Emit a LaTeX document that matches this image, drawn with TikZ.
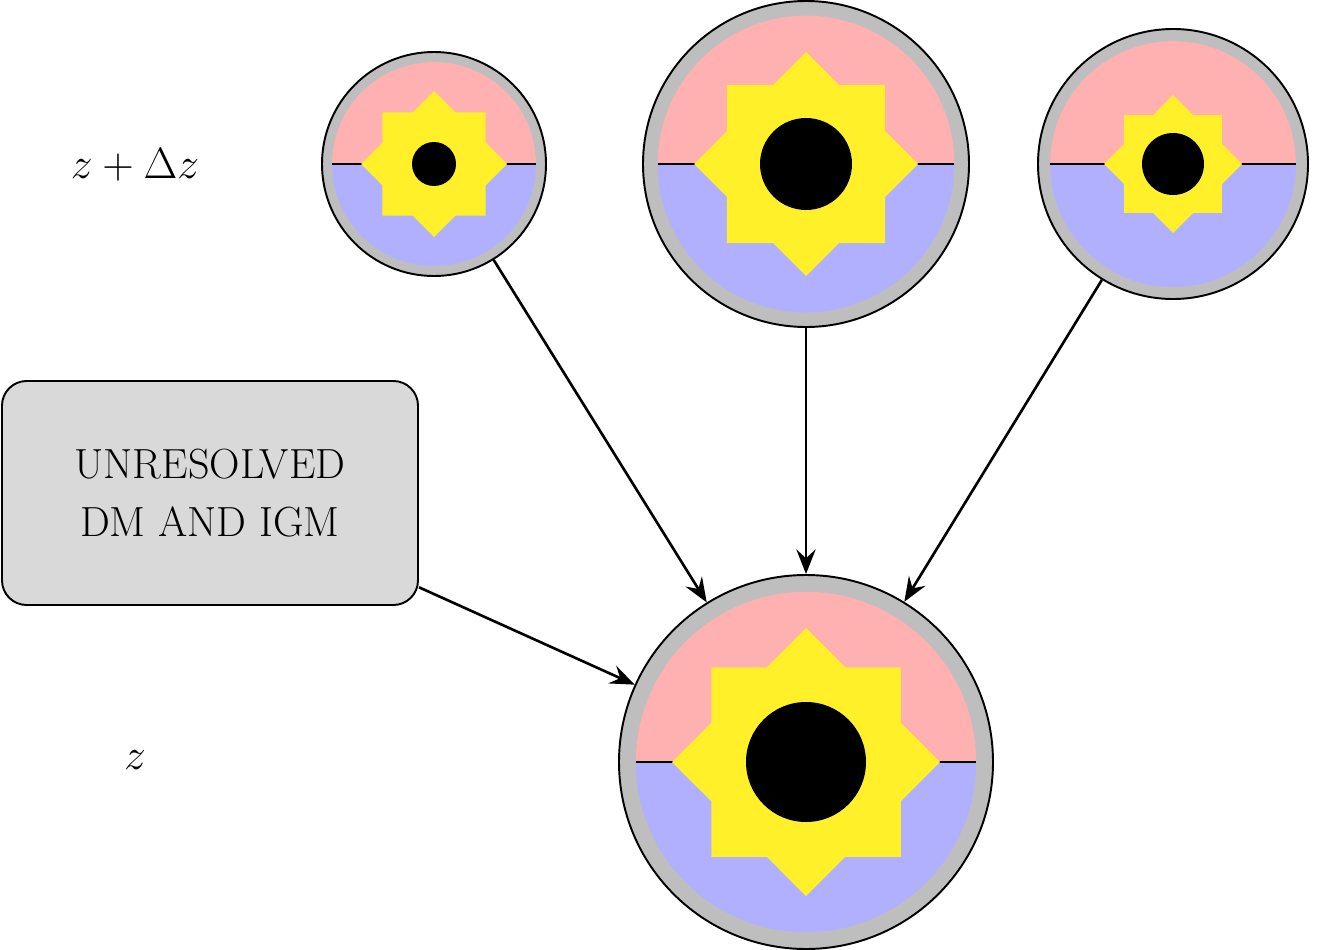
\documentclass[tikz,border=0pt]{standalone}
\usetikzlibrary{arrows.meta}
\definecolor{bl}{HTML}{B0B0FF}
\definecolor{pk}{HTML}{FFB0B0}
\definecolor{yl}{HTML}{FFF02A}
\definecolor{rg}{HTML}{BEBEBE}
\definecolor{bx}{HTML}{D9D9D9}
\newcommand{\eye}[6]{%
  \begin{scope}[shift={(#2,#3)}]
    \fill[rg] (0,0) circle[radius=#4];
    \fill[bl] (0.91*#4,0) arc[start angle=0,end angle=180,radius=0.91*#4] -- cycle;
    \fill[pk] (0.91*#4,0) arc[start angle=0,end angle=-180,radius=0.91*#4] -- cycle;
    \draw[line width=0.8pt] (-0.91*#4,0) -- (0.91*#4,0);
    \fill[yl] (90:#5) \foreach \k in {1,...,15}{ -- ({90+\k*22.5}:{#5*(1-0.2346*mod(\k,2))}) } -- cycle;
    \fill[black] (0,0) circle[radius=#6];
  \end{scope}
  \node[circle,draw,line width=1.1pt,inner sep=0pt,minimum size={2*#4*0.02cm}] (#1) at (#2,#3) {};
}
\begin{document}
\begin{tikzpicture}[x=0.02cm,y=-0.02cm,
  arr/.style={-{Stealth[length=14pt,width=11pt,inset=5pt]},line width=1.5pt},
  lab/.style={font=\fontsize{33}{40}\selectfont}]
\useasboundingbox (0,0) rectangle (1323,950);
\eye{s1}{434}{164}{112}{73}{22}
\eye{s2}{806}{164}{163}{112}{46}
\eye{s3}{1173}{164}{135}{69}{31}
\eye{b}{806}{762}{187}{134}{60}
\node[draw,line width=1.1pt,fill=bx,rounded corners=14pt,minimum width=416*0.02cm,minimum height=224*0.02cm,align=center,font=\fontsize{24}{33}\selectfont] (box) at (210,493) {UNRESOLVED\\DM AND IGM};
\node[lab] (lz1) at (135,165) {$z+\Delta z$};
\node[lab] (lz0) at (135,760) {$z$};
\draw[arr] (s1) -- (b);
\draw[arr] (s2) -- (b);
\draw[arr] (s3) -- (b);
\draw[arr] (box) -- (b);
\end{tikzpicture}
\end{document}
